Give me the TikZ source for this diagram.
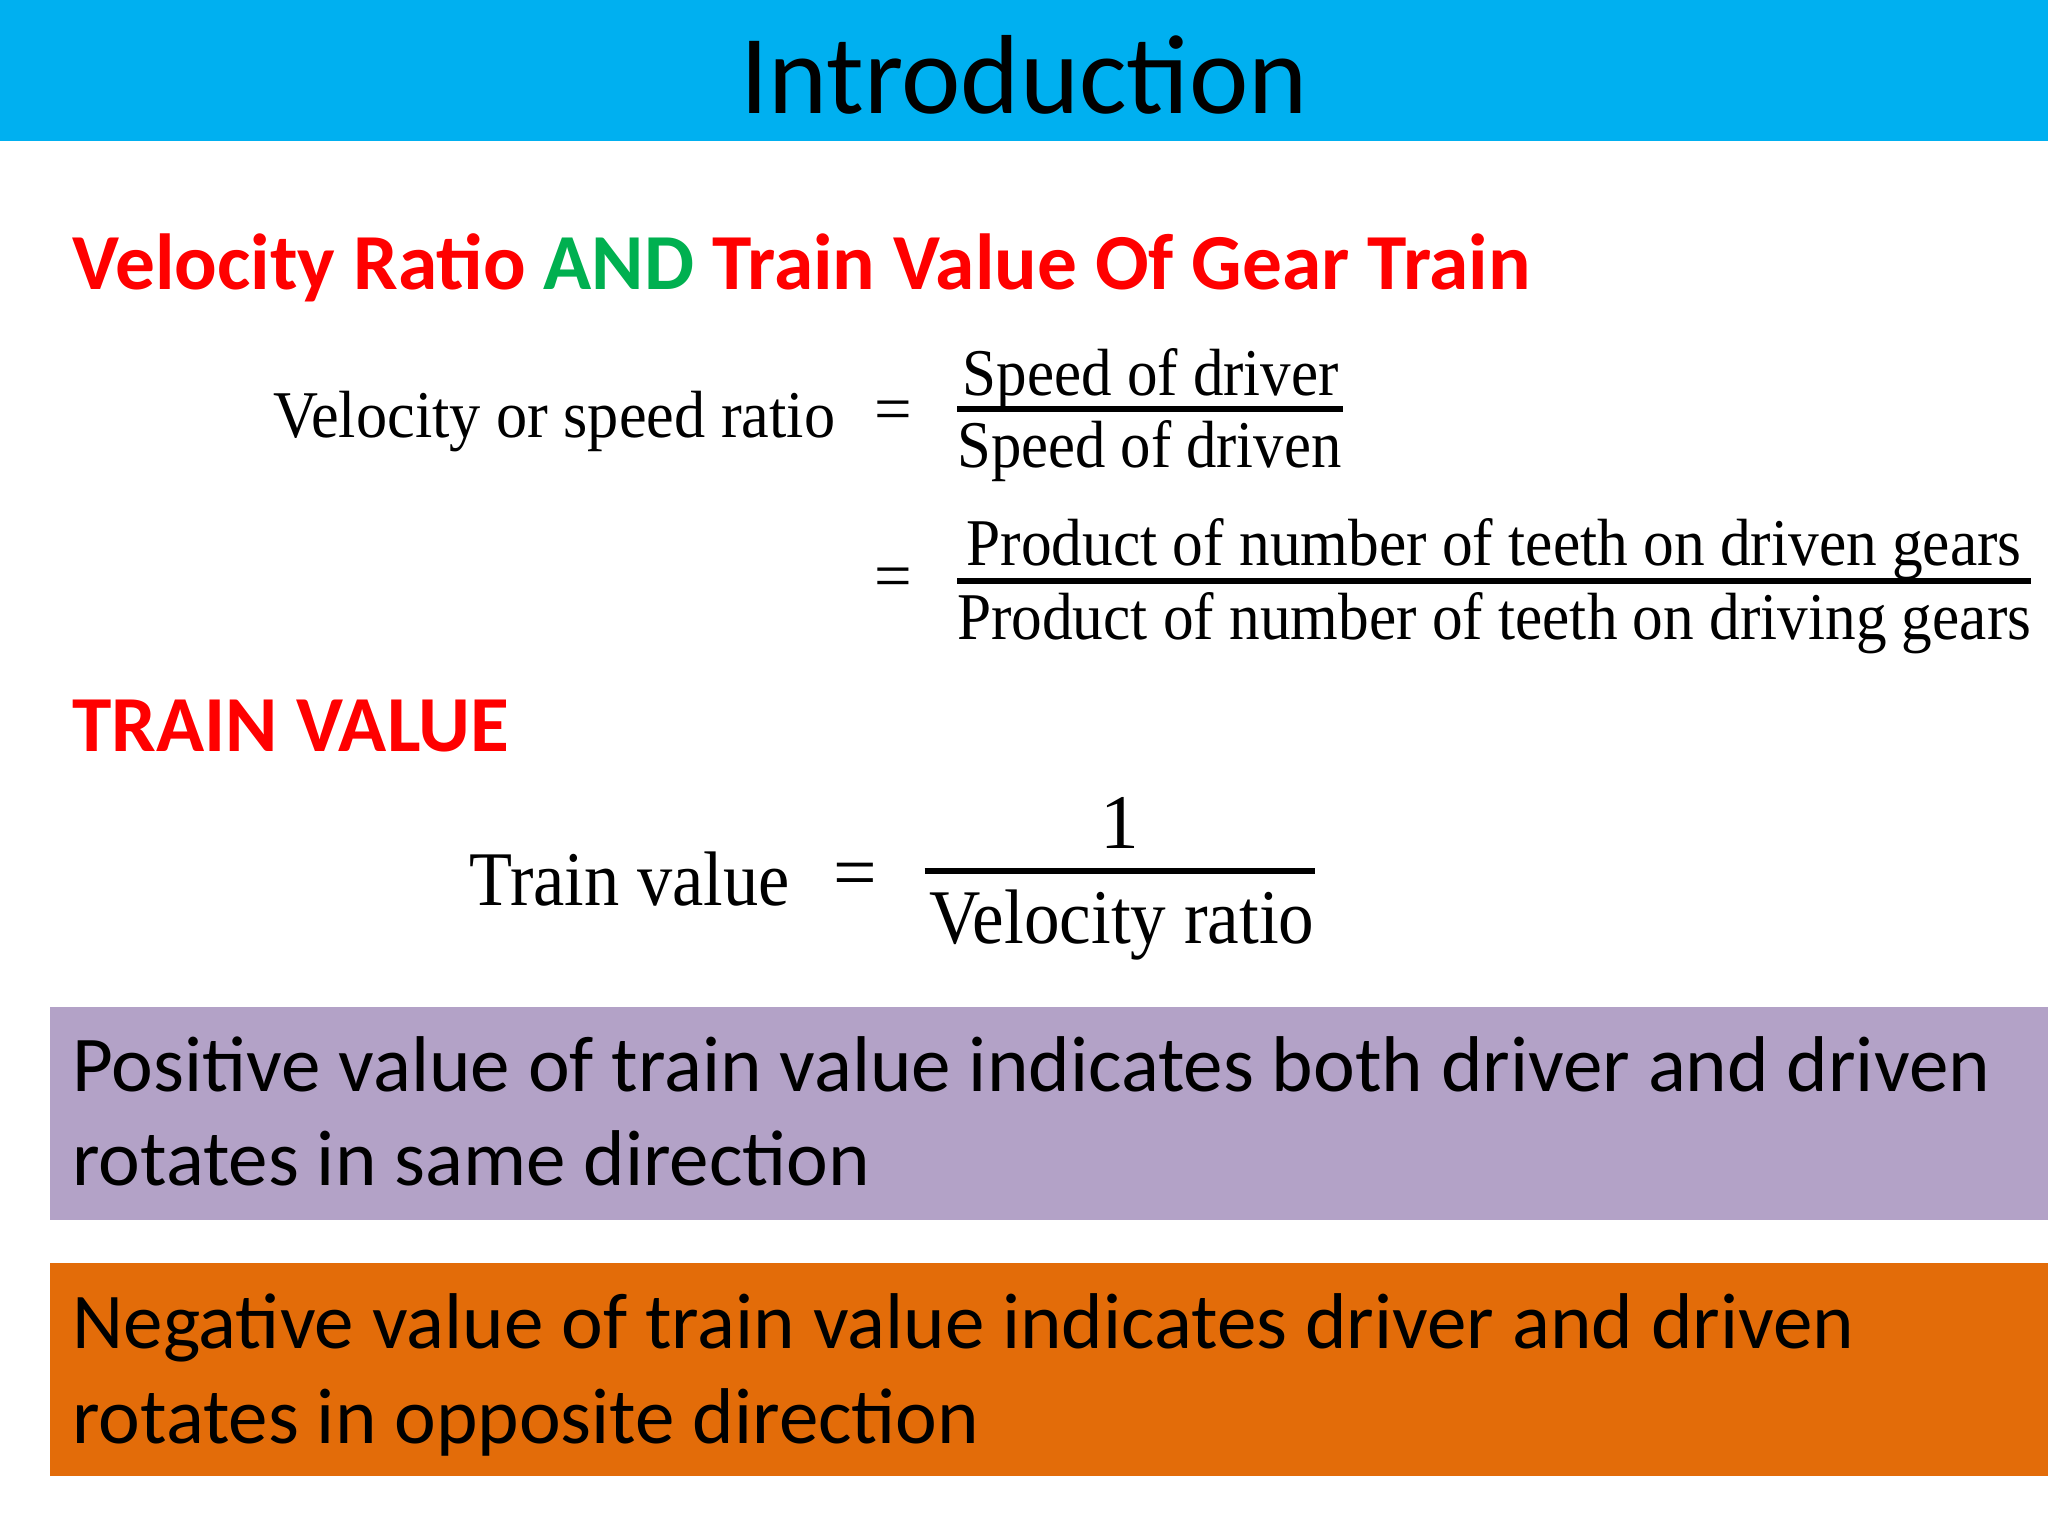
\documentclass[tikz,border=0pt]{standalone}
\usepackage{fontspec}
\usepackage{graphicx}
\setmainfont{Carlito}
\newfontfamily\ser{Liberation Serif}
\newcommand{\fw}[2]{\resizebox{#1}{\height}{#2}}
\definecolor{barblue}{HTML}{00B0F0}
\definecolor{hred}{HTML}{FF0000}
\definecolor{hgreen}{HTML}{00B050}
\definecolor{lilac}{HTML}{B3A2C7}
\definecolor{orng}{HTML}{E36C09}
\begin{document}
\begin{tikzpicture}[x=0.013061cm,y=-0.013061cm,
  head/.style={font=\fontsize{22.6}{27}\selectfont\bfseries,text=hred,inner sep=0,anchor=base west},
  frm/.style={font=\ser\fontsize{19}{23}\selectfont,inner sep=0,anchor=base},
  frmb/.style={font=\ser\fontsize{22}{26}\selectfont,inner sep=0,anchor=base},
  body/.style={font=\fontsize{22.5}{27}\selectfont,inner sep=0,anchor=base west,align=left},
  fline/.style={line width=1.6pt}]
\useasboundingbox (0,0) rectangle (1568,1176);
\fill[white] (0,0) rectangle (1568,1176);
\fill[barblue] (0,0) rectangle (1568,108);
\node[font=\fontsize{32}{38}\selectfont,inner sep=0] (title) at (784,57) {Introduction};
\node[head] (h1) at (55,222) {Velocity Ratio \textcolor{hgreen}{AND} Train Value Of Gear Train};
% formula 1
\node[frm,anchor=base east] (vr) at (640,335) {\fw{5.62cm}{Velocity or speed ratio}};
\node[frm] (eq1) at (684,330) {=};
\node[frm] (n1) at (881,303) {\fw{3.76cm}{Speed of driver}};
\node[frm] (d1) at (880,358) {\fw{3.84cm}{Speed of driven}};
\draw[fline] (733,313) -- (1028,313);
\node[frm] (eq2) at (684,458) {=};
\node[frm] (n2) at (1144,433) {\fw{10.55cm}{Product of number of teeth on driven gears}};
\node[frm] (d2) at (1144,490) {\fw{10.74cm}{Product of number of teeth on driving gears}};
\draw[fline] (733,445) -- (1555,445);
\node[head] (h2) at (55,575) {TRAIN VALUE};
\node[frmb,anchor=base east] (tv) at (605,693) {\fw{3.20cm}{Train value}};
\node[frmb] (eq3) at (655,688) {=};
\node[frmb] (one) at (857,650) {1};
\node[frmb] (d3) at (859,722) {\fw{3.85cm}{Velocity ratio}};
\draw[fline] (708,667) -- (1007,667);
% boxes
\fill[lilac] (38,771) rectangle (1568,934);
\node[body] (p) at (55,908) {Positive value of train value indicates both driver and driven\\rotates in same direction};
\fill[orng] (38,967) rectangle (1568,1130);
\node[body] (n) at (55,1105) {Negative value of train value indicates driver and driven\\rotates in opposite direction};
\end{tikzpicture}
\end{document}
